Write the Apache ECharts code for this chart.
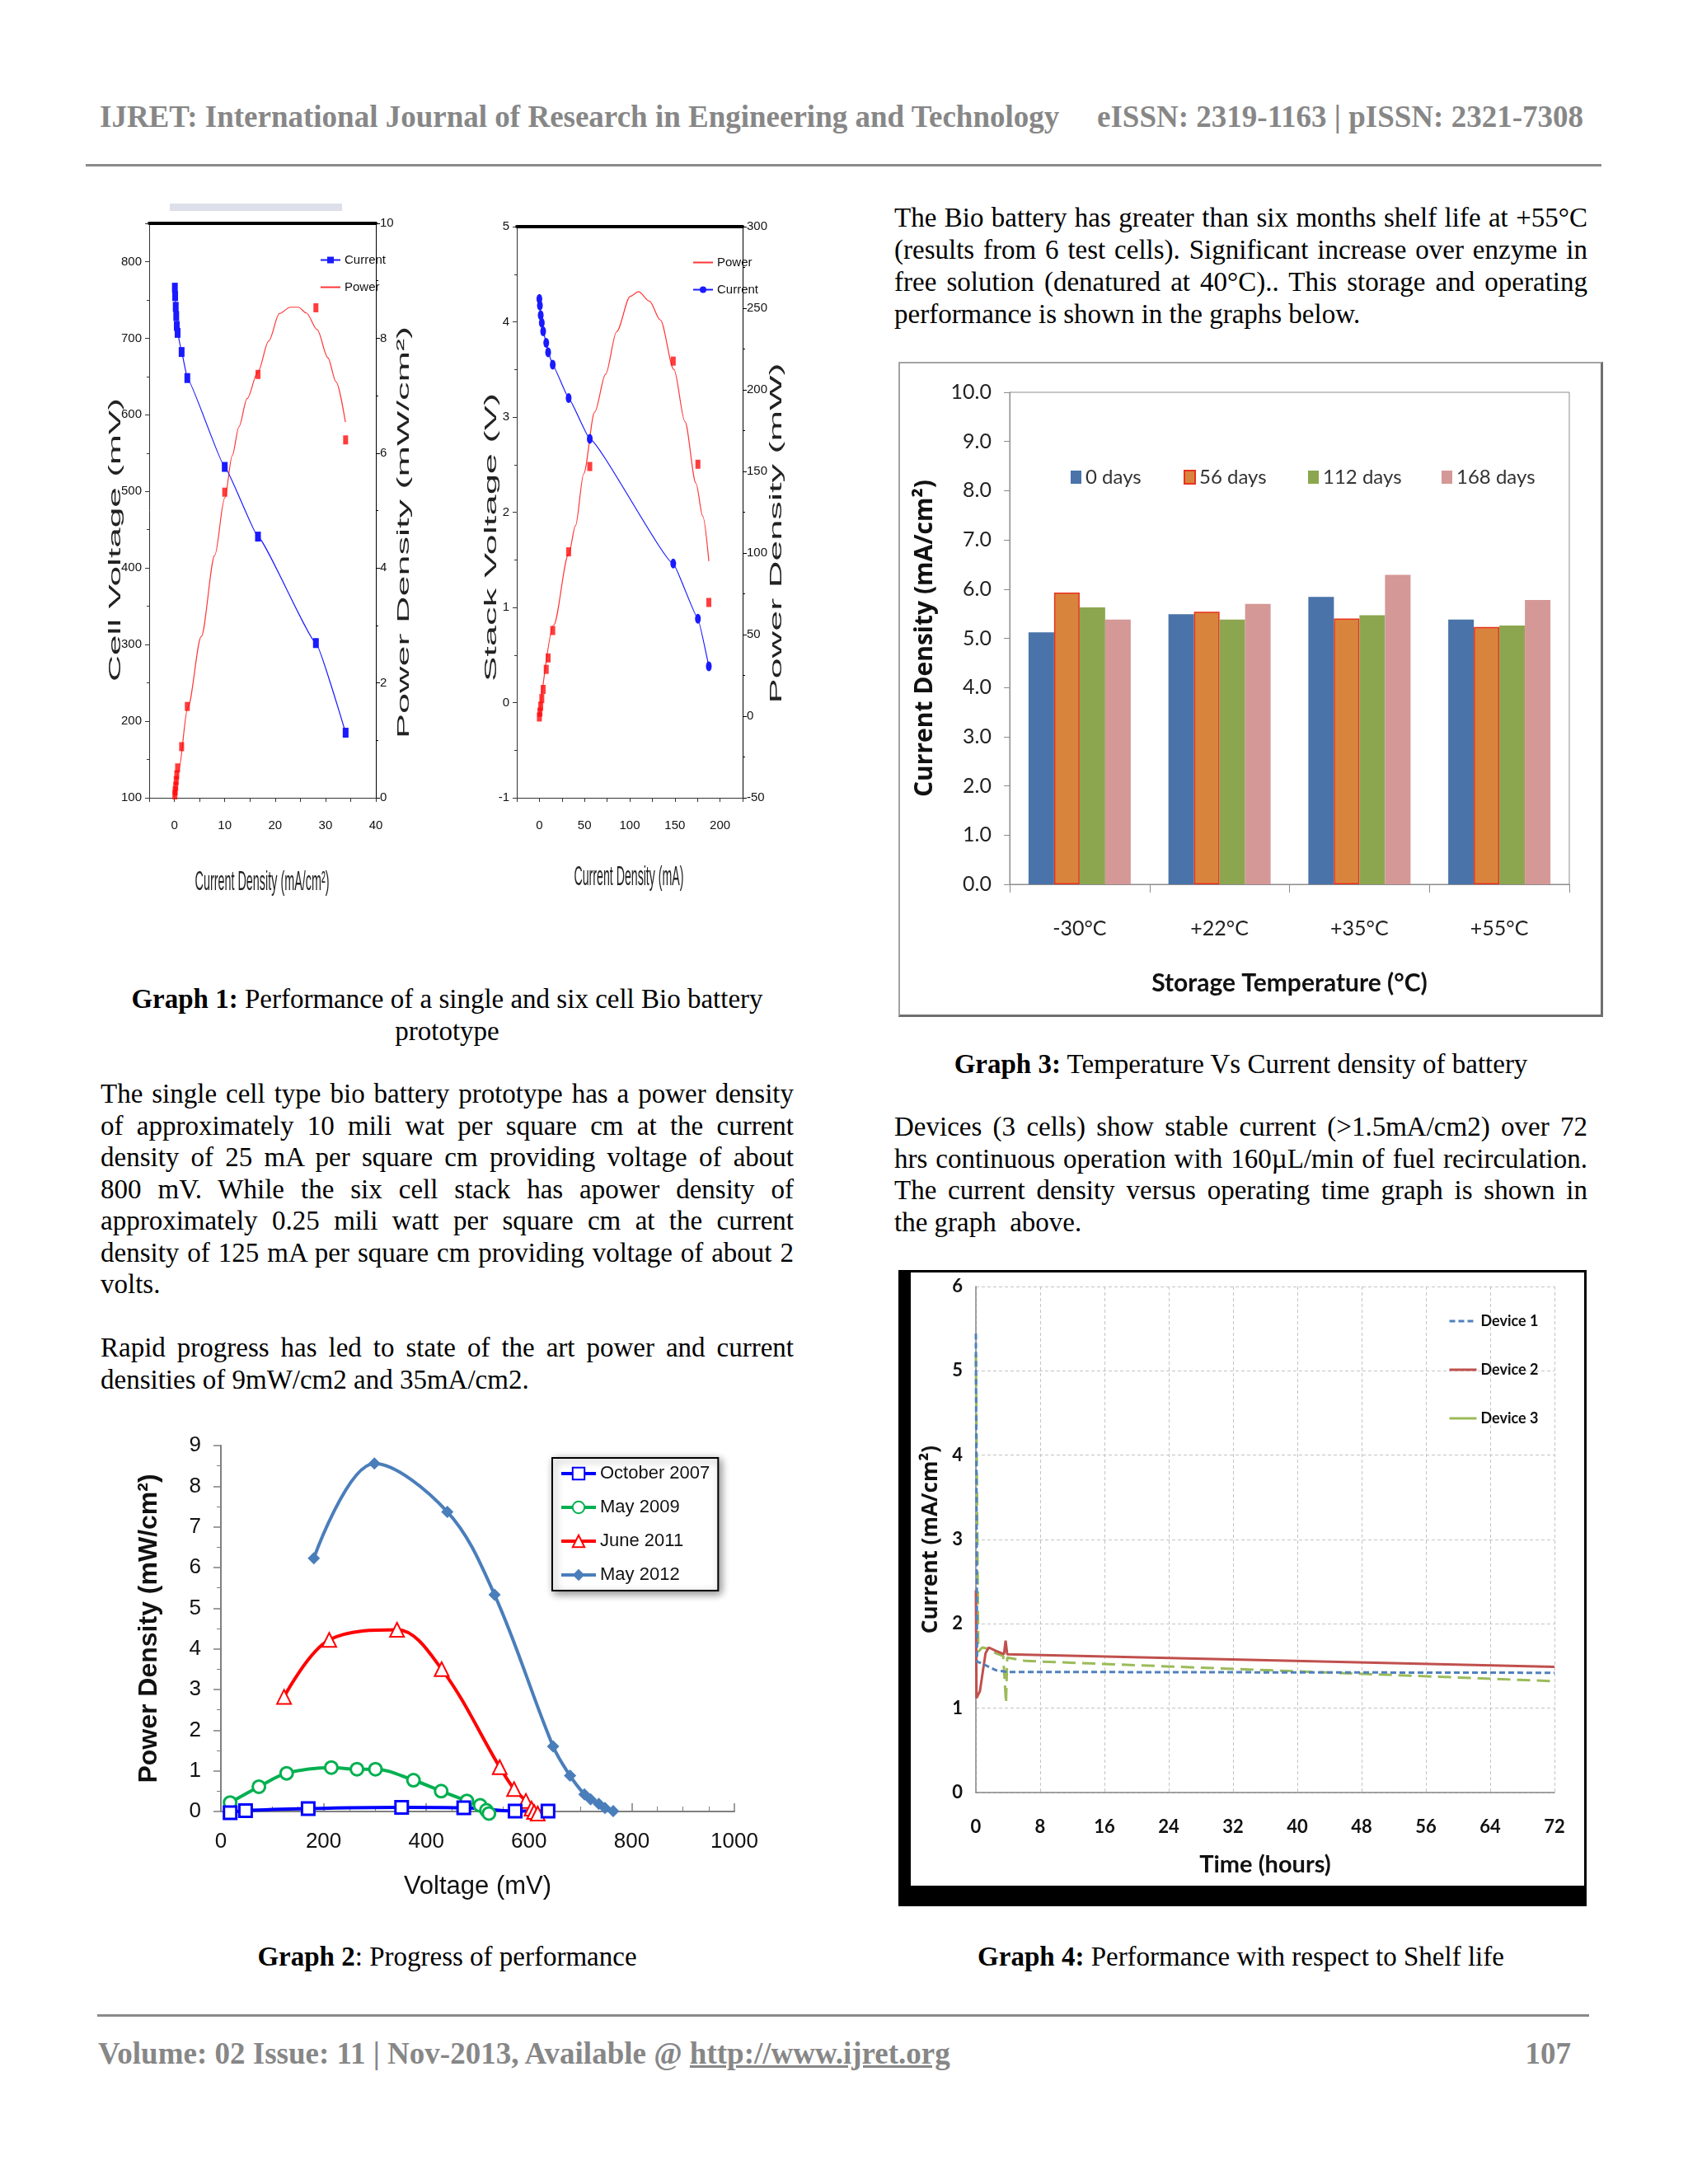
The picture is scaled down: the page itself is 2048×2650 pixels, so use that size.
<!DOCTYPE html>
<html><head><meta charset="utf-8">
<script src="https://cdn.jsdelivr.net/npm/echarts@6.0.0/dist/echarts.min.js"></script>
<style>
html,body{margin:0;padding:0;background:#fff;}
#page{position:relative;width:2048px;height:2650px;overflow:hidden;background:#fff;}
.hdr{position:absolute;font-family:'Liberation Serif','Times New Roman',serif;font-weight:bold;font-size:37px;line-height:40px;color:#878787;white-space:nowrap;}
.hdr a{color:#878787;text-decoration:underline;}
.body{position:absolute;font-family:'Liberation Serif','Times New Roman',serif;font-size:33px;line-height:38.5px;color:#000;width:841px;}
.body div{text-align:justify;text-align-last:justify;}
.body div.last{text-align:left;text-align-last:left;}
.cap{position:absolute;font-family:'Liberation Serif','Times New Roman',serif;font-size:33px;line-height:39px;color:#000;width:841px;text-align:center;}
.rule{position:absolute;background:#8a8a8a;}
.chart{position:absolute;}
</style></head>
<body>
<div id="page">
  <div class="hdr" style="left:121px;top:122px;">IJRET: International Journal of Research in Engineering and Technology</div>
  <div class="hdr" style="right:127px;top:122px;">eISSN: 2319-1163 | pISSN: 2321-7308</div>
  <div class="rule" style="left:104px;top:199px;width:1839px;height:3px;"></div>

  <div style="position:absolute;left:206px;top:247px;width:209px;height:9px;background:#dde0ea;"></div>
  <div id="g1a" class="chart" style="left:100px;top:230px;width:440px;height:880px;"></div>
  <div id="g1b" class="chart" style="left:560px;top:230px;width:430px;height:880px;"></div>

  <div class="body" style="left:1085px;top:245px;line-height:39px;">
    <div>The Bio battery has greater than six months shelf life at +55°C</div>
    <div>(results from 6 test cells). Significant increase over enzyme in</div>
    <div>free solution (denatured at 40°C).. This storage and operating</div>
    <div class="last">performance is shown in the graphs below.</div>
  </div>

  <div style="position:absolute;left:1090px;top:439px;width:850px;height:790px;border-top:2px solid #a3a3a3;border-left:2px solid #a3a3a3;border-right:3px solid #6e6e6e;border-bottom:3px solid #6e6e6e;"></div>
  <div id="g3" class="chart" style="left:1090px;top:439px;width:855px;height:795px;"></div>

  <div class="cap" style="left:122px;top:1193px;"><b>Graph 1:</b> Performance of a single and six cell Bio battery<br>prototype</div>
  <div class="cap" style="left:1085px;top:1272px;"><b>Graph 3:</b> Temperature Vs Current density of battery</div>

  <div class="body" style="left:122px;top:1308px;">
    <div>The single cell type bio battery prototype has a power density</div>
    <div>of approximately 10 mili wat per square cm at the current</div>
    <div>density of 25 mA per square cm providing voltage of about</div>
    <div>800 mV. While the six cell stack has apower density of</div>
    <div>approximately 0.25 mili watt per square cm at the current</div>
    <div>density of 125 mA per square cm providing voltage of about 2</div>
    <div class="last">volts.</div>
  </div>
  <div class="body" style="left:122px;top:1616px;">
    <div>Rapid progress has led to state of the art power and current</div>
    <div class="last">densities of 9mW/cm2 and 35mA/cm2.</div>
  </div>

  <div class="body" style="left:1085px;top:1348px;">
    <div>Devices (3 cells) show stable current (&gt;1.5mA/cm2) over 72</div>
    <div>hrs continuous operation with 160µL/min of fuel recirculation.</div>
    <div>The current density versus operating time graph is shown in</div>
    <div class="last">the graph&nbsp; above.</div>
  </div>

  <div id="g2" class="chart" style="left:140px;top:1720px;width:800px;height:600px;"></div>

  <div style="position:absolute;left:1090px;top:1541px;width:835px;height:772px;background:#000;"></div>
  <div style="position:absolute;left:1105px;top:1544px;width:817px;height:744px;background:#fff;"></div>
  <div id="g4" class="chart" style="left:1090px;top:1541px;width:835px;height:772px;"></div>

  <div class="cap" style="left:122px;top:2355px;"><b>Graph 2</b>: Progress of performance</div>
  <div class="cap" style="left:1085px;top:2355px;"><b>Graph 4:</b> Performance with respect to Shelf life</div>

  <div class="rule" style="left:118px;top:2444px;width:1810px;height:3px;"></div>
  <div class="hdr" style="left:119px;top:2472px;">Volume: 02 Issue: 11 | Nov-2013, Available @ <a>http://www.ijret.org</a></div>
  <div class="hdr" style="right:142px;top:2472px;">107</div>
</div>
<script>
// ---------- Graph 1 (single cell) ----------
const g1aCurrentX = [0.10, 0.16, 0.27, 0.37, 0.48, 0.64, 1.44, 2.57, 10.0, 16.6, 28.1, 34.0];
const g1aVoltage  = [766, 755, 741, 729, 716, 707, 682, 648, 532, 441, 302, 185];
const g1aPower    = [0.05, 0.12, 0.20, 0.30, 0.40, 0.52, 0.89, 1.59, 5.32, 7.37, 8.53, 6.23];
const g1aFitX = [0, 0.8, 2.67, 5.35, 8.02, 10.0, 11.5, 12.83, 14.44, 16.58, 18.72, 20.86, 23.0, 24.6, 26.2, 28.34, 30.48, 32.09, 33.96];
const g1aFitP = [0, 0.46, 1.57, 2.81, 4.22, 5.22, 5.96, 6.46, 6.95, 7.41, 7.95, 8.43, 8.54, 8.54, 8.44, 8.15, 7.66, 7.24, 6.54];
// ---------- Graph 1 (six cell stack) ----------
const g1bCurrentX = [0.0, 0.6, 1.5, 2.7, 4.2, 7.6, 9.7, 14.8, 32.4, 55.8, 148.2, 175.5, 187.6];
const g1bVoltage  = [4.24, 4.17, 4.07, 3.99, 3.90, 3.78, 3.68, 3.55, 3.20, 2.77, 1.46, 0.88, 0.38];
const g1bPower    = [-0.5, 2.5, 6.1, 10.8, 16.4, 28.7, 35.7, 52.5, 100.7, 153, 217.6, 154.4, 69.7];
const g1bFitX = [0, 15.8, 32.4, 40, 49.1, 61.2, 73.3, 85.5, 100.6, 109.7, 121.8, 133.9, 149, 161.2, 173.3, 180.9, 187.6];
const g1bFitP = [0, 55.8, 99.3, 116.7, 148.6, 186.3, 209.5, 235.6, 257.3, 260.2, 254.4, 242.8, 212.4, 180.5, 142.8, 122.5, 95];
// ---------- Graph 3 ----------
const g3Categories = ['-30°C', '+22°C', '+35°C', '+55°C'];
const g3SeriesNames = ['0 days', '56 days', '112 days', '168 days'];
const g3Days0   = [5.12, 5.49, 5.84, 5.38];
const g3Days56  = [5.93, 5.54, 5.40, 5.23];
const g3Days112 = [5.63, 5.38, 5.47, 5.26];
const g3Days168 = [5.38, 5.70, 6.29, 5.78];
// ---------- Graph 2 ----------
const g2Oct2007V = [18, 48, 170, 352, 473, 573, 637];
const g2Oct2007P = [-0.03, 0.02, 0.07, 0.10, 0.09, 0.01, 0.01];
const g2May2009V = [18, 74, 128, 215, 265, 301, 375, 429, 479, 505, 517, 522];
const g2May2009P = [0.22, 0.61, 0.94, 1.08, 1.04, 1.04, 0.77, 0.50, 0.26, 0.15, 0.03, -0.05];
const g2Jun2011V = [123, 211, 343, 430, 543, 571, 594, 605, 610, 617];
const g2Jun2011P = [2.82, 4.22, 4.47, 3.50, 1.09, 0.55, 0.26, 0.07, -0.01, -0.05];
const g2May2012V = [181, 299, 441, 533, 647, 680, 708, 720, 736, 748, 764];
const g2May2012P = [6.23, 8.56, 7.37, 5.33, 1.60, 0.88, 0.42, 0.30, 0.19, 0.085, 0.01];
// ---------- Graph 4 ----------
const g4Dev1T = [0, 0.15, 0.5, 1.4, 2.5, 3.9, 72];
const g4Dev1I = [5.44, 1.55, 1.54, 1.50, 1.45, 1.43, 1.42];
const g4Dev2T = [0, 0.08, 0.2, 0.5, 1.2, 1.6, 2.5, 3.5, 3.7, 3.9, 72];
const g4Dev2I = [2.4, 1.12, 1.12, 1.2, 1.65, 1.72, 1.68, 1.64, 1.8, 1.64, 1.49];
const g4Dev3T = [0, 0.3, 0.8, 1.7, 2.5, 3.4, 3.75, 3.9, 6.2, 72];
const g4Dev3I = [5.2, 1.67, 1.72, 1.70, 1.65, 1.62, 1.06, 1.60, 1.56, 1.32];

const SANS = "'Liberation Sans',Arial,sans-serif";
const CAL = "Lato,'Liberation Sans',sans-serif";
const BOLDW = "'Open Sans','DejaVu Sans',sans-serif";

function pairs(xs, ys) { return xs.map((x, i) => [x, ys[i]]); }
const mctx = document.createElement('canvas').getContext('2d');
function fitText(text, cx, cy, size, family, weight, len, rotate, color) {
  mctx.font = weight + ' ' + size + 'px ' + family;
  const w = mctx.measureText(text).width;
  return { type: 'text', x: cx, y: cy, rotation: rotate ? Math.PI / 2 : 0, scaleX: len / w, scaleY: 1, silent: true,
    style: { text: text, fontSize: size, fontFamily: family, fontWeight: weight, fill: color || '#222', align: 'center', verticalAlign: 'middle' } };
}
const g1Txt = { fontFamily: SANS, fontSize: 15, color: '#111' };

function g1Option(c) {
  return {
    animation: false,
    grid: { left: c.grid[0], top: c.grid[1], width: c.grid[2], height: c.grid[3], outerBoundsMode: 'none' },
    legend: { orient: 'vertical', left: c.legend[0], top: c.legend[1], itemWidth: 24, itemHeight: 10, itemGap: 18,
      textStyle: { fontFamily: SANS, fontSize: 15, color: '#111' }, data: c.legendData },
    xAxis: [
      { type: 'value', min: c.x[0], max: c.x[1], interval: c.x[2],
        axisLine: { onZero: false, lineStyle: { color: '#333' } }, axisTick: { length: 5, lineStyle: { color: '#333' } },
        axisLabel: Object.assign({}, g1Txt, { margin: 26, formatter: v => (v >= 0 && v <= c.x[4] && v % c.x[3] === 0) ? String(v) : '' }),
        splitLine: { show: false } },
      { type: 'value', position: 'top', min: c.x[0], max: c.x[1],
        axisLine: { onZero: false, lineStyle: { color: '#000', width: 4 } }, axisTick: { show: false }, axisLabel: { show: false }, splitLine: { show: false } }
    ],
    yAxis: [
      { type: 'value', min: c.yl[0], max: c.yl[1], interval: c.yl[2],
        axisLine: { show: true, onZero: false, lineStyle: { color: '#333' } }, axisTick: { show: true, length: 5, lineStyle: { color: '#333' } },
        minorTick: { show: true, splitNumber: 2, length: 3, lineStyle: { color: '#333' } },
        axisLabel: Object.assign({}, g1Txt, { margin: 9, showMaxLabel: c.yl[3] }), splitLine: { show: false } },
      { type: 'value', position: 'right', min: c.yr[0], max: c.yr[1], interval: c.yr[2],
        axisLine: { show: true, onZero: false, lineStyle: { color: '#000' } }, axisTick: { show: true, length: 5, lineStyle: { color: '#000' } },
        minorTick: { show: true, splitNumber: 2, length: 3, lineStyle: { color: '#000' } },
        axisLabel: Object.assign({}, g1Txt, { margin: 5 }), splitLine: { show: false } }
    ],
    series: [
      { name: 'Power', type: 'line', yAxisIndex: 1, data: c.fit, smooth: 0.3, smoothMonotone: 'x', symbol: 'none',
        itemStyle: { color: '#ff3636' }, lineStyle: { color: '#ff3636', width: 1.2 }, z: 2 },
      { name: 'Power data', type: 'scatter', yAxisIndex: 1, data: c.pw, symbol: 'rect', symbolSize: [6, 11],
        itemStyle: { color: '#ff0d0d' }, z: 3 },
      { name: 'Current', type: 'line', yAxisIndex: 0, data: c.cur, smooth: 0.1, smoothMonotone: 'x', symbol: c.curSym, symbolSize: [7, 12],
        itemStyle: { color: '#1a1aff' }, lineStyle: { color: '#1a1aff', width: 1.2 }, z: 4 }
    ],
    graphic: c.graphic
  };
}

const optG1a = g1Option({
  grid: [81, 41, 275, 697], legend: [283, 73],
  legendData: [{ name: 'Current' }, { name: 'Power', itemStyle: { opacity: 0 } }],
  x: [-5, 40, 5, 10, 40], yl: [100, 850, 100, false], yr: [0, 10, 2],
  fit: pairs(g1aFitX, g1aFitP), pw: pairs(g1aCurrentX, g1aPower), cur: pairs(g1aCurrentX, g1aVoltage), curSym: 'rect',
  graphic: [
    fitText('Cell Voltage (mV)', 40, 425, 20, SANS, 'normal', 344, true),
    fitText('Power Density (mW/cm²)', 390, 416, 20, SANS, 'normal', 500, true),
    fitText('Current Density (mA/cm²)', 218, 841, 34, SANS, 'normal', 163, false)
  ]
});
const optG1b = g1Option({
  grid: [67, 45, 274, 693], legend: [275, 76],
  legendData: [{ name: 'Power', itemStyle: { opacity: 0 } }, { name: 'Current' }],
  x: [-25, 225, 25, 50, 200], yl: [-1, 5, 1, true], yr: [-50, 300, 50],
  fit: pairs(g1bFitX, g1bFitP), pw: pairs(g1bCurrentX, g1bPower), cur: pairs(g1bCurrentX, g1bVoltage), curSym: 'circle',
  graphic: [
    fitText('Stack Voltage (V)', 36, 422, 20, SANS, 'normal', 350, true),
    fitText('Power Density (mW)', 382, 417, 20, SANS, 'normal', 413, true),
    fitText('Current Density (mA)', 203, 835, 34, SANS, 'normal', 133, false)
  ]
});

// ---------- Graph 3 option ----------
const g3Txt = { fontFamily: CAL, fontSize: 25, color: '#222' };
const g3LegendLeft = [204, 341, 492, 654];
const optG3 = {
  animation: false,
  grid: { left: 135, top: 37, width: 679, height: 597, show: true, borderColor: '#8c8c8c', borderWidth: 1, outerBoundsMode: 'none' },
  legend: g3SeriesNames.map((n, i) => ({ left: g3LegendLeft[i], top: 123, itemWidth: 13, itemHeight: 16, icon: 'rect',
    textStyle: { fontFamily: CAL, fontSize: 24, color: '#333' }, data: [n] })),
  xAxis: { type: 'category', data: g3Categories,
    axisLine: { lineStyle: { color: '#8c8c8c' } }, axisTick: { show: true, length: 10, lineStyle: { color: '#8c8c8c' } },
    axisLabel: Object.assign({}, g3Txt, { margin: 41 }),
    name: 'Storage Temperature (°C)', nameLocation: 'middle', nameGap: 105,
    nameTextStyle: { fontFamily: CAL, fontWeight: 'bold', fontSize: 30, color: '#111' } },
  yAxis: { type: 'value', min: 0, max: 10, interval: 1,
    axisLine: { show: true, onZero: false, lineStyle: { color: '#8c8c8c' } }, axisTick: { show: true, length: 7, lineStyle: { color: '#8c8c8c' } },
    axisLabel: Object.assign({}, g3Txt, { margin: 22, formatter: v => v.toFixed(1) }), splitLine: { show: false },
    name: 'Current Density (mA/cm²)', nameLocation: 'middle', nameGap: 88,
    nameTextStyle: { fontFamily: BOLDW, fontWeight: 'bold', fontSize: 30, color: '#111' } },
  series: [
    { name: g3SeriesNames[0], type: 'bar', data: g3Days0, barWidth: 31, barGap: '0%', itemStyle: { color: '#4a73a9' } },
    { name: g3SeriesNames[1], type: 'bar', data: g3Days56, barWidth: 31, barGap: '0%', itemStyle: { color: '#d9843d', borderColor: '#e8321e', borderWidth: 1.5 } },
    { name: g3SeriesNames[2], type: 'bar', data: g3Days112, barWidth: 31, barGap: '0%', itemStyle: { color: '#8ca650' } },
    { name: g3SeriesNames[3], type: 'bar', data: g3Days168, barWidth: 31, barGap: '0%', itemStyle: { color: '#d49897' } }
  ]
};

// ---------- Graph 2 option ----------
const g2Txt = { fontFamily: SANS, fontSize: 26, color: '#111' };
function g2Series(name, xs, ys, sym, size, color, filled, bw) {
  return { name: name, type: 'line', data: pairs(xs, ys), smooth: 0.35, clip: false, symbol: sym, symbolSize: size,
    itemStyle: filled ? { color: color } : { color: '#fff', borderColor: color, borderWidth: bw },
    lineStyle: { color: color, width: 4 } };
}
const optG2 = {
  animation: false,
  grid: { left: 128, top: 34, width: 623, height: 444, outerBoundsMode: 'none' },
  legend: { orient: 'vertical', left: 530, top: 49, padding: [8, 10, 8, 9], itemGap: 19, itemWidth: 42, itemHeight: 18,
    lineStyle: { width: 4 },
    backgroundColor: '#fff', borderColor: '#000', borderWidth: 2, shadowBlur: 10, shadowColor: 'rgba(0,0,0,0.45)', shadowOffsetX: 3, shadowOffsetY: 3,
    textStyle: { fontFamily: SANS, fontSize: 22, color: '#111' }, data: ['October 2007', 'May 2009', 'June 2011', 'May 2012'] },
  xAxis: { type: 'value', min: 0, max: 1000, interval: 200,
    axisLine: { onZero: false, lineStyle: { color: '#7f7f7f', width: 2 } }, axisTick: { inside: true, length: 10, lineStyle: { color: '#7f7f7f', width: 1.5 } },
    minorTick: { show: true, splitNumber: 4, length: 6, lineStyle: { color: '#7f7f7f' } },
    axisLabel: Object.assign({}, g2Txt, { margin: 24, formatter: v => String(v) }), splitLine: { show: false },
    name: 'Voltage (mV)', nameLocation: 'middle', nameGap: 76, nameTextStyle: { fontFamily: SANS, fontSize: 31, color: '#111' } },
  yAxis: { type: 'value', min: 0, max: 9, interval: 1,
    axisLine: { show: true, onZero: false, lineStyle: { color: '#7f7f7f', width: 2 } }, axisTick: { show: true, length: 9, lineStyle: { color: '#7f7f7f', width: 1.5 } },
    minorTick: { show: true, splitNumber: 2, length: 5, lineStyle: { color: '#7f7f7f' } },
    axisLabel: Object.assign({}, g2Txt, { margin: 24 }), splitLine: { show: false },
    name: 'Power Density (mW/cm²)', nameLocation: 'middle', nameGap: 71,
    nameTextStyle: { fontFamily: SANS, fontWeight: 'bold', fontSize: 32, color: '#111' } },
  series: [
    g2Series('May 2012', g2May2012V, g2May2012P, 'diamond', 15, '#4a7ebb', true, 0),
    g2Series('June 2011', g2Jun2011V, g2Jun2011P, 'triangle', 17, '#ff0000', false, 2),
    g2Series('May 2009', g2May2009V, g2May2009P, 'circle', 15, '#00b050', false, 3),
    g2Series('October 2007', g2Oct2007V, g2Oct2007P, 'rect', 15, '#0000ff', false, 3)
  ]
};

// ---------- Graph 4 option ----------
const g4Txt = { fontFamily: CAL, fontWeight: 'bold', fontSize: 22, color: '#111' };
const optG4 = {
  animation: false,
  grid: { left: 94, top: 20, width: 702, height: 614, outerBoundsMode: 'none' },
  legend: { orient: 'vertical', left: 662, top: 48, itemGap: 41, itemWidth: 33, itemHeight: 10,
    itemStyle: { opacity: 0 }, lineStyle: { width: 3 },
    textStyle: { fontFamily: CAL, fontWeight: 'bold', fontSize: 18, color: '#111' },
    data: [{ name: 'Device 1' }, { name: 'Device 2' }, { name: 'Device 3', lineStyle: { type: 'solid', width: 3 } }] },
  xAxis: { type: 'value', min: 0, max: 72, interval: 8,
    axisLine: { onZero: false, lineStyle: { color: '#868686', width: 1.5 } }, axisTick: { show: false },
    axisLabel: Object.assign({}, g4Txt, { margin: 31 }),
    splitLine: { show: true, lineStyle: { color: '#c4c4c4', type: [4, 3], width: 1 } },
    name: 'Time (hours)', nameLocation: 'middle', nameGap: 73,
    nameTextStyle: { fontFamily: CAL, fontWeight: 'bold', fontSize: 29, color: '#111' } },
  yAxis: { type: 'value', min: 0, max: 6, interval: 1,
    axisLine: { show: true, onZero: false, lineStyle: { color: '#868686', width: 1.5 } }, axisTick: { show: false },
    axisLabel: Object.assign({}, g4Txt, { margin: 16 }),
    splitLine: { show: true, lineStyle: { color: '#c4c4c4', type: [4, 3], width: 1 } },
    name: 'Current (mA/cm²)', nameLocation: 'middle', nameGap: 41,
    nameTextStyle: { fontFamily: BOLDW, fontWeight: 'bold', fontSize: 26, color: '#111' } },
  series: [
    { name: 'Device 1', type: 'line', data: pairs(g4Dev1T, g4Dev1I), symbol: 'none', itemStyle: { color: '#4f81bd' },
      lineStyle: { color: '#4f81bd', width: 3, type: [7, 4] }, z: 4 },
    { name: 'Device 2', type: 'line', data: pairs(g4Dev2T, g4Dev2I), symbol: 'none', itemStyle: { color: '#c0504d' },
      lineStyle: { color: '#c0504d', width: 3 }, z: 3 },
    { name: 'Device 3', type: 'line', data: pairs(g4Dev3T, g4Dev3I), symbol: 'none', itemStyle: { color: '#9bbb59' },
      lineStyle: { color: '#9bbb59', width: 3, type: [16, 8] }, z: 2 }
  ]
};

echarts.init(document.getElementById('g1a'), null, { renderer: 'canvas' }).setOption(optG1a);
echarts.init(document.getElementById('g1b'), null, { renderer: 'canvas' }).setOption(optG1b);
echarts.init(document.getElementById('g3'), null, { renderer: 'canvas' }).setOption(optG3);
echarts.init(document.getElementById('g2'), null, { renderer: 'canvas' }).setOption(optG2);
echarts.init(document.getElementById('g4'), null, { renderer: 'canvas' }).setOption(optG4);
</script>
</body></html>
